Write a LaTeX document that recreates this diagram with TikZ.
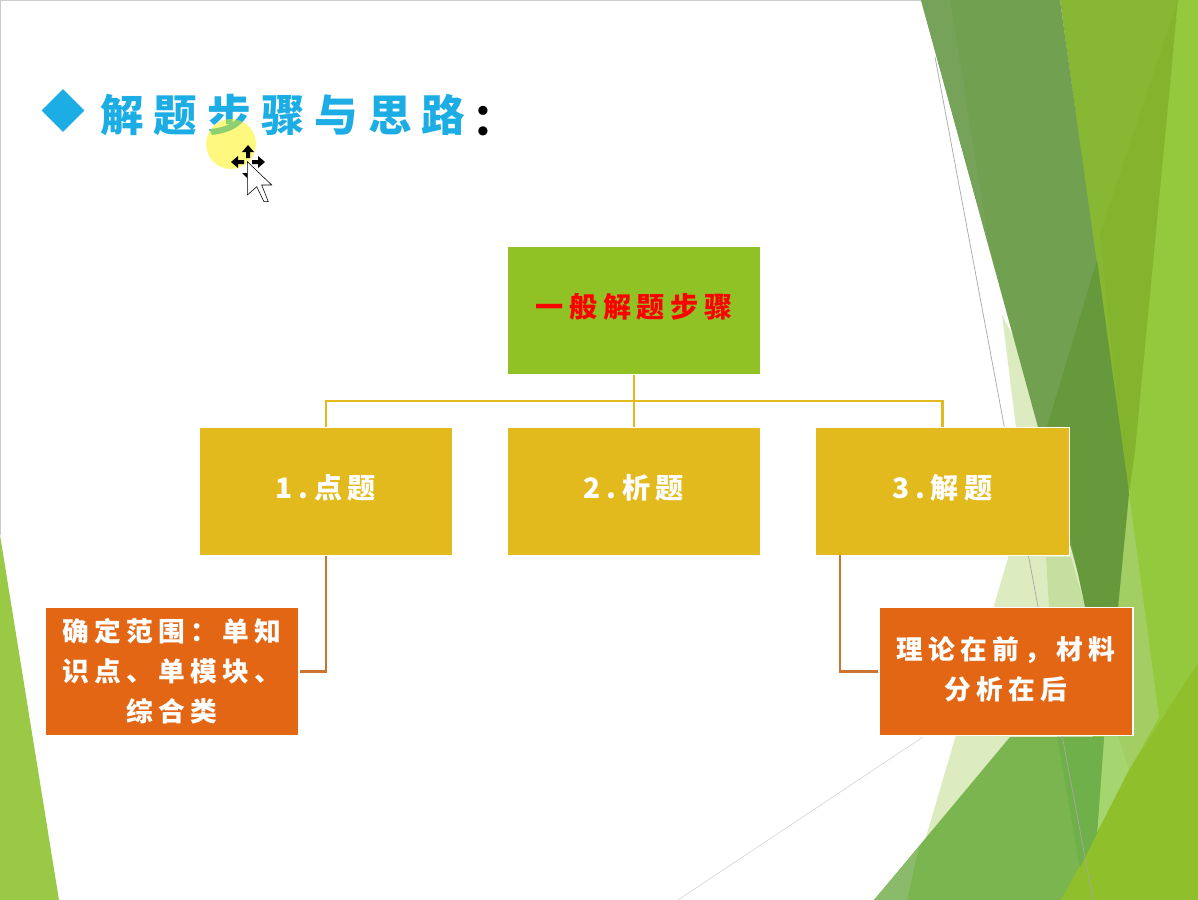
\documentclass[tikz,border=0pt]{standalone}
\usepackage{fontspec}
\usepackage{xcolor}
\usetikzlibrary{shapes.geometric, positioning}
\newfontfamily\cjktitle[LetterSpace=23]{Noto Sans CJK SC}
\newfontfamily\cjkbox[LetterSpace=20]{Noto Sans CJK SC}
\definecolor{bandgreen}{HTML}{70A050}
\definecolor{bandpale}{HTML}{76A359}
\definecolor{banddark}{HTML}{66993C}
\definecolor{midgreen}{HTML}{88B733}
\definecolor{middark}{HTML}{84B42E}
\definecolor{rightgreen}{HTML}{95C93D}
\definecolor{patchgreen}{HTML}{A2CE63}
\definecolor{lowgreen}{HTML}{8FC02B}
\definecolor{softgreen}{HTML}{DCEBC0}
\definecolor{softdark}{HTML}{C5DFA0}
\definecolor{lightgreen}{HTML}{A5D56E}
\definecolor{basegreen}{HTML}{7AB550}
\definecolor{stripegreen}{HTML}{70B04A}
\definecolor{cornergreen}{HTML}{8ABB6A}
\definecolor{leftgreen}{HTML}{9AC945}
\definecolor{rootfill}{HTML}{90C226}
\definecolor{stepfill}{HTML}{E2BA1E}
\definecolor{leaffill}{HTML}{E36615}
\definecolor{linkleaf}{HTML}{CC7434}
\definecolor{titleblue}{HTML}{1CADE4}
\tikzset{
	chartbox/.style={draw=white, line width=0.9pt, minimum width=6.35cm, minimum height=3.2cm, inner sep=0pt, align=center, text=white, font=\cjkbox\bfseries\fontsize{20}{28.4}\selectfont},
	rootbox/.style={chartbox, fill=rootfill, text=red, text depth=6.6pt},
	stepbox/.style={chartbox, fill=stepfill, text depth=6.6pt},
	leafbox/.style={chartbox, fill=leaffill, font=\cjkbox\bfseries\fontsize{19}{28.4}\selectfont},
	linkstep/.style={draw=stepfill, line width=1.8pt},
	linkleafs/.style={draw=linkleaf, line width=1.8pt},
}
\begin{document}
\begin{tikzpicture}[x=0.025cm, y=-0.025cm]
	\useasboundingbox (0,0) rectangle (1198,900);
	
	% thin lines behind the slide
	\draw[gray!30, line width=0.5pt] (678,900) -- (923,737);
	\draw[gray!40, line width=1pt] (0,535) -- (0,0) -- (925,0);
	
	% right hand facets
	\fill[softgreen] (1002,315) -- (1025,500) -- (926,837) -- (1100,837) -- (1100,500) -- cycle;
	\fill[softdark] (1046,557) -- (1071,557) -- (1085,607) -- (1120,740) -- (1057,740) -- cycle;
	\fill[rightgreen] (1178,0) -- (1198,0) -- (1198,900) -- (1061,900) -- (1118,607) -- cycle;
	\fill[patchgreen] (1129,493) -- (1159,717) -- (1129,770) -- (1097,833) -- (1104,737) -- (1118,607) -- cycle;
	\fill[lightgreen] (1104,735) -- (1118,735) -- (1129,770) -- (1097,833) -- cycle;
	\fill[lowgreen] (1198,663) -- (1198,900) -- (1061,900) -- (1097,833) -- (1129,770) -- cycle;
	\fill[midgreen] (1060,0) -- (1178,0) -- (1135,450) -- (1129,493) -- (1122,450) -- cycle;
	\fill[middark] (1178,0) -- (1135,450) -- (1129,493) -- (1122,450) -- (1100,233) -- cycle;
	\fill[bandgreen] (921,0) -- (1060,0) -- (1129,493) -- (1110,690) -- cycle;
	\fill[banddark] (1097,260) -- (1129,493) -- (1110,690) -- (1085,607) -- (1047,427) -- cycle;
	\fill[bandpale] (921,0) -- (950,0) -- (990,250) -- cycle;
	\fill[basegreen] (1010,737) -- (1104,737) -- (1097,833) -- (1061,900) -- (874,900) -- cycle;
	\fill[stripegreen] (1057,737) -- (1104,737) -- (1097,833) -- (1080,868) -- cycle;
	\fill[cornergreen] (874,900) -- (919,847) -- (907,900) -- cycle;
	\draw[gray!70, line width=0.5pt] (935,57) -- (1093,900);
	
	% left corner
	\fill[leftgreen] (0,535) -- (59,900) -- (0,900) -- cycle;
	
	% title
	\node[diamond, fill=titleblue, minimum width=1.07cm, minimum height=1.07cm, inner sep=0pt] (bullet) at (63,110.5) {};
	\node[anchor=west, inner sep=0pt, text=titleblue, font=\cjktitle\bfseries\fontsize{31}{36}\selectfont] (title) at (100,115) {解题步骤与思路\hspace{5pt}\raisebox{-3pt}{\textcolor{black}{：}}};
	
	% chart
	\node[rootbox] (root) at (634,310.5) {一般解题步骤};
	\node[stepbox] (point) at (326,491.5) {1.点题};
	\node[stepbox] (analyse) at (634,491.5) {2.析题};
	\node[stepbox] (solve) at (942.5,491.5) {3.解题};
	\node[leafbox] (scope) at (172,671.5) {确定范围：单知\\识点、单模块、\\综合类};
	\node[leafbox, text depth=5pt] (order) at (1006,671.5) {理论在前，材料\\分析在后};
	
	\coordinate (fork) at (634,401);
	\coordinate (solvefoot) at (840,555);
	
	\draw[linkstep] (root) -- (analyse);
	\draw[linkstep] (fork) -| (point.north);
	\draw[linkstep] (fork) -| (solve.north);
	\draw[linkleafs] (point.south) |- (scope.east);
	\draw[linkleafs] (solvefoot) |- (order.west);
	
	% pointer
	\fill[yellow, opacity=0.5] (231,144) circle (25);
	\fill[black] (248,145) -- (254,152) -- (250,152) -- (250,158) -- (246,158) -- (246,152) -- (242,152) -- cycle;
	\fill[black] (231,162) -- (238,156) -- (238,160) -- (244,160) -- (244,164) -- (238,164) -- (238,168) -- cycle;
	\fill[black] (265,162) -- (258,156) -- (258,160) -- (252,160) -- (252,164) -- (258,164) -- (258,168) -- cycle;
	\fill[black] (248,179) -- (242,173) -- (254,173) -- cycle;
	\draw[black, fill=white, line width=0.4pt] (247.3,161.7) -- (247.3,195) -- (256.7,186.7) -- (264,201.7) -- (268.3,201.7) -- (261.7,185) -- (271.7,185) -- cycle;
\end{tikzpicture}
\end{document}
